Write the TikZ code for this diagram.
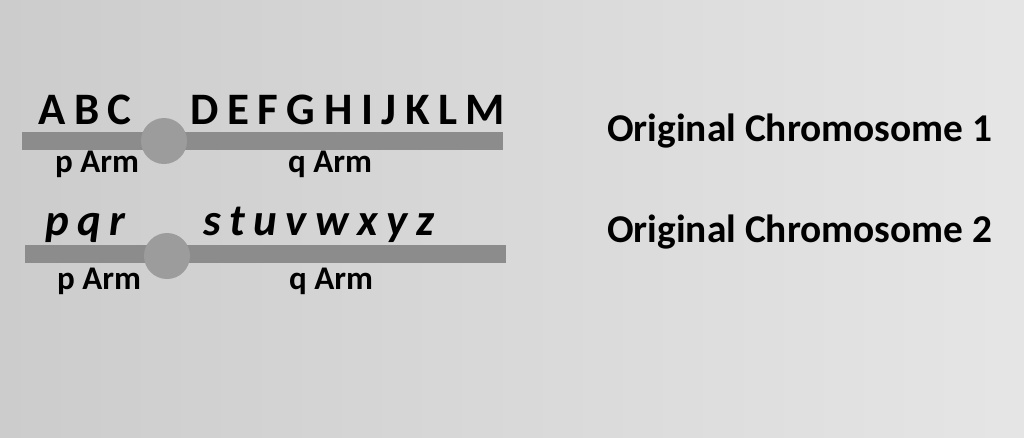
\documentclass[tikz,border=0pt]{standalone}
\usepackage{fontspec}
\setmainfont{Carlito}
\newcommand{\gap}{\hspace{0.19em}}
\begin{document}
\begin{tikzpicture}[x=0.025cm,y=-0.025cm]
		\tikzset{arm/.style = {line width=18*0.025cm, draw=barGray}}
		\tikzset{centro/.style = {shape=circle, fill=knobGray, minimum size=46*0.025cm, inner sep=0pt}}
		\tikzset{genes/.style = {anchor=base west, inner sep=0pt, font=\bfseries\fontsize{32}{34}\selectfont}}
		\tikzset{armlabel/.style = {anchor=center, inner sep=0pt, font=\bfseries\fontsize{23.5}{25}\selectfont}}
		\tikzset{title/.style = {anchor=west, inner sep=0pt, font=\bfseries\fontsize{28}{30}\selectfont}}
		\definecolor{bgGray}{gray}{0.84}
		\definecolor{barGray}{gray}{0.55}
		\definecolor{knobGray}{gray}{0.61}
		\shade[left color=black!20, right color=black!10] (0,0) rectangle (1024,437);
		\useasboundingbox (0,0) rectangle (1024,437);
		% chromosome 1
		\coordinate (l1) at (22,141);
		\coordinate (r1) at (503,141);
		\draw[arm] (l1) -- (r1);
		\node[centro] (c1) at (164,141) {};
		\node[genes] (abc) at (38,124) {A\gap B\gap C};
		\node[genes] (dm) at (190,124) {D\gap E\gap F\gap G\gap H\gap I\gap J\gap K\gap L\gap M};
		\node[armlabel] (p1) at (97,164) {p Arm};
		\node[armlabel] (q1) at (330,164) {q Arm};
		% chromosome 2
		\coordinate (l2) at (25,254);
		\coordinate (r2) at (506,254);
		\draw[arm] (l2) -- (r2);
		\node[centro] (c2) at (167,256) {};
		\node[genes] (pqr) at (45,235) {\itshape p\gap q\gap r};
		\node[genes] (sz) at (203,235) {\itshape s\gap t\gap u\gap v\gap w\gap x\gap y\gap z};
		\node[armlabel] (p2) at (99,281) {p Arm};
		\node[armlabel] (q2) at (331,281) {q Arm};
		% names
		\node[title] (n1) at (607,131) {Original Chromosome 1};
		\node[title] (n2) at (607,232) {Original Chromosome 2};
	\end{tikzpicture}
\end{document}
